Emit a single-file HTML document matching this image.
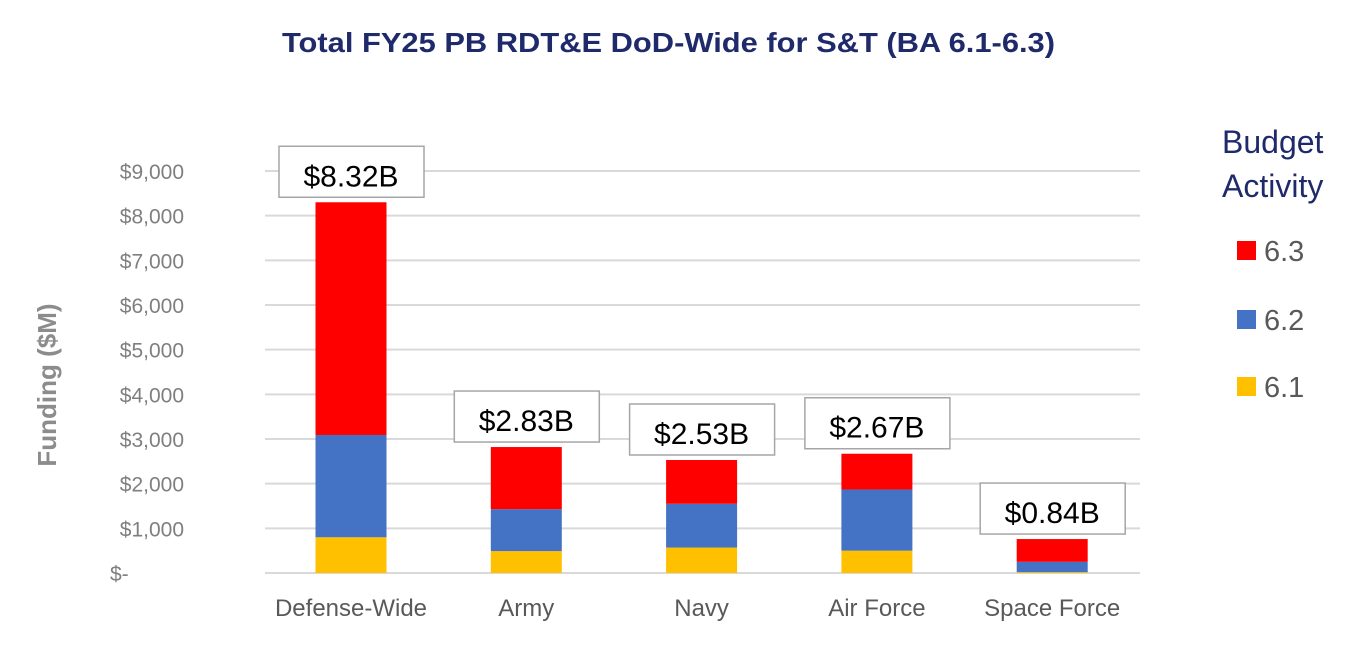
<!DOCTYPE html>
<html><head><meta charset="utf-8"><style>
body{margin:0;background:#fff;width:1354px;height:642px;overflow:hidden;font-family:"Liberation Sans",sans-serif}
</style></head><body>
<svg width="1354" height="642" xmlns="http://www.w3.org/2000/svg">
<text x="282" y="52" textLength="773" lengthAdjust="spacingAndGlyphs" font-size="28" font-weight="bold" fill="#1f2a6b">Total FY25 PB RDT&amp;E DoD-Wide for S&amp;T (BA 6.1-6.3)</text>
<text transform="translate(56,385) rotate(-90)" text-anchor="middle" font-size="26" font-weight="bold" fill="#8c8c8c">Funding ($M)</text>
<g id="grid"></g><g id="bars"></g><g id="labels"></g>
<g>
<text x="1222" y="153" font-size="32" fill="#1f2a6b">Budget</text>
<text x="1222" y="197" font-size="32" fill="#1f2a6b">Activity</text>
<rect x="1237" y="241" width="19" height="19" fill="#ff0000"/>
<text x="1264" y="261" font-size="29" fill="#595959">6.3</text>
<rect x="1237" y="310" width="19" height="19" fill="#4472c4"/>
<text x="1264" y="330" font-size="29" fill="#595959">6.2</text>
<rect x="1237" y="377" width="19" height="19" fill="#ffc000"/>
<text x="1264" y="397" font-size="29" fill="#595959">6.1</text>
</g>
</svg>
<script>
const categories=["Defense-Wide","Army","Navy","Air Force","Space Force"];
const ba61=[800,490,570,500,20];
const ba62=[2290,940,980,1370,230];
const ba63=[5210,1390,980,800,510];
const totalLabels=["$8.32B","$2.83B","$2.53B","$2.67B","$0.84B"];
const ticks=[0,1000,2000,3000,4000,5000,6000,7000,8000,9000];
const tickLabels=["$-","$1,000","$2,000","$3,000","$4,000","$5,000","$6,000","$7,000","$8,000","$9,000"];
const NS="http://www.w3.org/2000/svg";
const y0=573,pxPer=402/9000,x0=351,step=175.3,bw=71;
const y=v=>y0-v*pxPer, xc=i=>x0+i*step;
function mk(tag,attrs,parent){const e=document.createElementNS(NS,tag);for(const k in attrs)e.setAttribute(k,attrs[k]);parent.appendChild(e);return e;}
const grid=document.getElementById('grid'),bars=document.getElementById('bars'),labels=document.getElementById('labels');
ticks.forEach((t,i)=>{
 const l=mk('line',{x1:265,x2:1140,y1:y(t),y2:y(t),stroke:'#d9d9d9','stroke-width':2},grid);
 
 
 const tx=mk('text',{x:i==0?110:184,y:y(t)+8,'font-size':21,fill:'#7f7f7f','text-anchor':i==0?'start':'end'},grid);
 tx.textContent=tickLabels[i];
 
 
});
categories.forEach((c,i)=>{
 const segs=[[ba61[i],'#ffc000'],[ba62[i],'#4472c4'],[ba63[i],'#ff0000']];
 let base=0;
 segs.forEach((s,j)=>{
  const r=mk('rect',{x:xc(i)-bw/2,y:y(base+s[0]),width:bw,height:s[0]*pxPer,fill:s[1]},bars);
  
  
  base+=s[0];
 });
 const ty=y(base);
 const bx=mk('rect',{x:xc(i)-72,y:ty-56,width:145,height:51,fill:'#fff',stroke:'#a6a6a6','stroke-width':1.5},labels);
 
 
 const tt=mk('text',{x:xc(i),y:ty-16,'text-anchor':'middle','font-size':30,fill:'#000'},labels);
 tt.textContent=totalLabels[i];
 
 
 const cl=mk('text',{x:xc(i),y:616,'text-anchor':'middle','font-size':24,fill:'#595959'},labels);
 cl.textContent=c;
 
 
});
</script>
</body></html>
